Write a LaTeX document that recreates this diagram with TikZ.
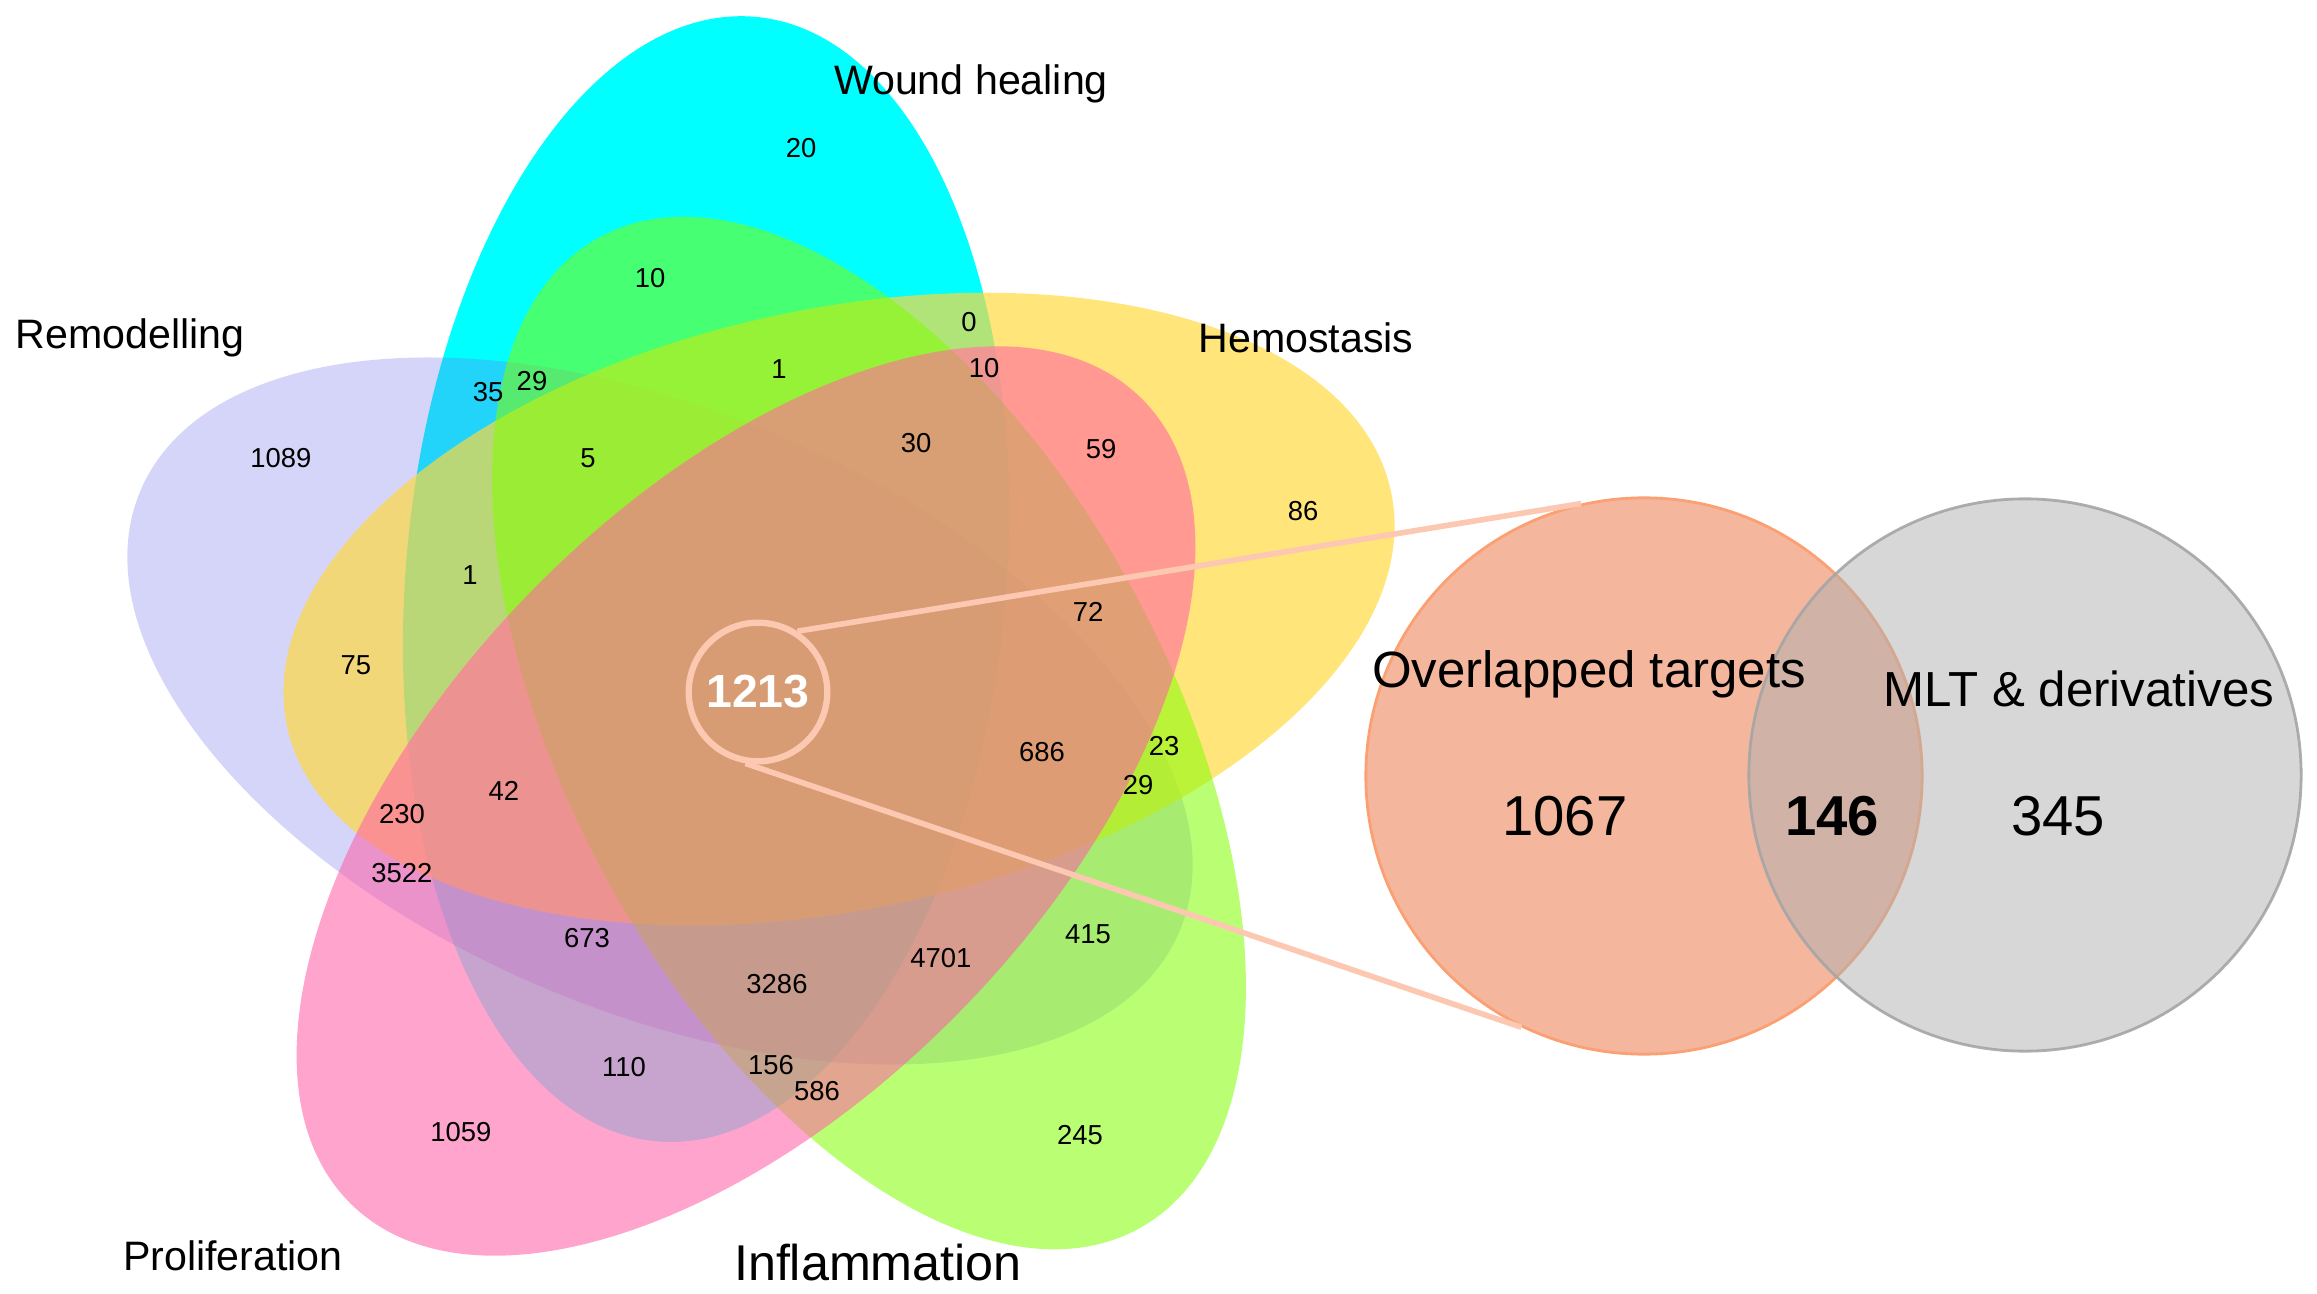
\documentclass[tikz,border=0pt]{standalone}
\usepackage{fontspec}
\setmainfont{Liberation Sans}
\usetikzlibrary{positioning}
\definecolor{woundC}{RGB}{0,255,255}
\definecolor{remodC}{RGB}{115,115,238}
\definecolor{hemoC}{RGB}{255,217,62}
\definecolor{inflamC}{RGB}{130,255,0}
\definecolor{prolifC}{RGB}{255,94,166}
\definecolor{targetC}{RGB}{244,183,158}
\definecolor{targetD}{RGB}{250,160,115}
\definecolor{mltC}{RGB}{175,175,175}
\definecolor{mltD}{RGB}{165,165,165}
\definecolor{calloutC}{RGB}{252,200,178}
\newcommand{\petal}[2]{[rotate around={#2:(#1)}] (#1) ellipse [x radius=5.64cm, y radius=3cm]}

\begin{document}
\begin{tikzpicture}[
  x=0.01cm, y=-0.01cm,
  cnt/.style={inner sep=0pt, font=\fontsize{7.8}{9}\selectfont},
  setlab/.style={inner sep=0pt, font=\fontsize{11.7}{14}\selectfont},
  big/.style={inner sep=0pt, font=\fontsize{16}{19}\selectfont},
  callout/.style={draw=calloutC, line width=1.6pt}
]
\useasboundingbox (0,0) rectangle (2317,1294);

% Five sets
\fill[woundC] \petal{706,579}{85};
\begin{scope}
  \clip \petal{746,801}{45.6};
  \fill[white, fill opacity=.5] \petal{706,579}{85};
\end{scope}
\fill[remodC, fill opacity=.3] \petal{660,711}{-23};
\fill[hemoC, fill opacity=.69] \petal{839,609}{12};
\fill[inflamC, fill opacity=.55] \petal{869,733}{-61.5};
\fill[prolifC, fill opacity=.56] \petal{746,801}{45.6};

% Set names
\node[setlab] (wound) at (971,84) {Wound healing};
\node[setlab] (remod) at (130,338) {Remodelling};
\node[setlab] (hemo) at (1306,338) {Hemostasis};
\node[setlab] (prolif) at (233,1256) {Proliferation};
\node[setlab, font=\fontsize{14.3}{17}\selectfont] (inflam) at (878,1263) {Inflammation};

% Region counts
\node[cnt] (n20) at (801,148) {20};
\node[cnt] (n10a) at (650,278) {10};
\node[cnt] (n0) at (969,322) {0};
\node[cnt] (n35) at (488,392) {35};
\node[cnt] (n29a) at (532,381) {29};
\node[cnt] (n1a) at (779,369) {1};
\node[cnt] (n10b) at (984,368) {10};
\node[cnt] (n1089) at (281,458) {1089};
\node[cnt] (n5) at (588,458) {5};
\node[cnt] (n30) at (916,443) {30};
\node[cnt] (n59) at (1101,449) {59};
\node[cnt] (n86) at (1303,511) {86};
\node[cnt] (n1b) at (470,575) {1};
\node[cnt] (n72) at (1088,612) {72};
\node[cnt] (n75) at (356,665) {75};
\node[cnt] (n686) at (1042,752) {686};
\node[cnt] (n23) at (1164,746) {23};
\node[cnt] (n29b) at (1138,785) {29};
\node[cnt] (n42) at (504,791) {42};
\node[cnt] (n230) at (402,814) {230};
\node[cnt] (n3522) at (402,873) {3522};
\node[cnt] (n673) at (587,938) {673};
\node[cnt] (n415) at (1088,934) {415};
\node[cnt] (n4701) at (941,958) {4701};
\node[cnt] (n3286) at (777,984) {3286};
\node[cnt] (n110) at (624,1067) {110};
\node[cnt] (n156) at (771,1065) {156};
\node[cnt] (n586) at (817,1091) {586};
\node[cnt] (n1059) at (461,1132) {1059};
\node[cnt] (n245) at (1080,1135) {245};

% Core of all five sets
\node[circle, callout, line width=1.8pt, minimum size=1.32cm, text=white, font=\bfseries\fontsize{13.2}{15}\selectfont] (core) at (758,692) {1213};

% Two-set comparison
\node[circle, minimum size=5.56cm, fill=targetC, draw=targetD, line width=0.8pt] (targets) at (1644,776) {};
\node[circle, minimum size=5.52cm, fill=mltC, fill opacity=.5, draw=mltD, draw opacity=.9, line width=0.8pt] (mlt) at (2025,775) {};
\draw[callout] (core.57) -- (targets.103);
\draw[callout] (core.-100) -- (targets.244);

\node[inner sep=0pt, font=\fontsize{14.5}{17}\selectfont] (tname) at (1589,674) {Overlapped targets};
\node[inner sep=0pt, font=\fontsize{14}{17}\selectfont] (mname) at (2079,689) {MLT \& derivatives};
\node[big] (only1) at (1565,816) {1067};
\node[big, font=\bfseries\fontsize{16}{19}\selectfont] (both) at (1832,816) {146};
\node[big] (only2) at (2058,816) {345};

\end{tikzpicture}
\end{document}
